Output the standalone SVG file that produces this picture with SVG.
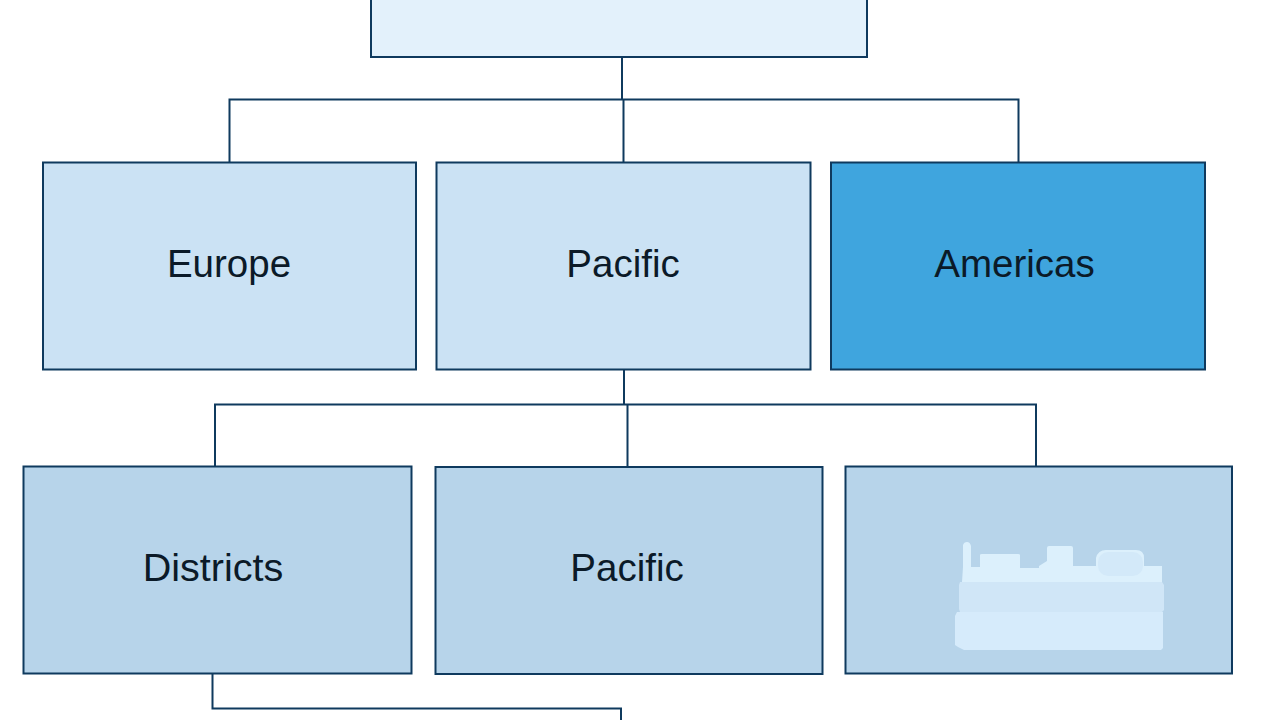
<svg xmlns="http://www.w3.org/2000/svg" width="1280" height="720" viewBox="0 0 1280 720">
<style>
.box{stroke:#0f3a5e;stroke-width:2}
.l1{fill:#cbe2f4}
.l2{fill:#b7d4ea}
.c{fill:none;stroke:#0f3a5e;stroke-width:2}
text{font-family:"Liberation Sans",Arial,sans-serif;font-size:38.500px;fill:#0b1a28;text-anchor:middle}
</style>
<rect width="1280" height="720" fill="#ffffff"/>
<g id="connectors">
<path class="c" d="M622 57V99M229.500 162V99.500H1018.500V162M623.500 99.500V162"/>
<path class="c" d="M624 369V404M215 466V404.500H1036V466M627.500 404.500V467"/>
<path class="c" d="M212.500 673V708.500H621V720"/>
</g>
<g id="root"><rect class="box" x="371" y="-10" width="496" height="67" fill="#e3f1fb"/></g>
<g id="europe"><rect class="box l1" x="43" y="162.500" width="373" height="207"/><text x="229" y="277">Europe</text></g>
<g id="pacific"><rect class="box l1" x="436.500" y="162.500" width="374" height="207"/><text x="623" y="277">Pacific</text></g>
<g id="americas"><rect class="box" x="831" y="162.500" width="374" height="207" fill="#3fa5de"/><text x="1014.500" y="277">Americas</text></g>
<g id="districts"><rect class="box l2" x="23.500" y="466.500" width="388" height="207"/><text x="213" y="581" style="font-size:39.600px">Districts</text></g>
<g id="pacific-2"><rect class="box l2" x="435.500" y="467" width="387" height="207"/><text x="627" y="581">Pacific</text></g>
<g id="ship-node"><rect class="box l2" x="845.500" y="466.500" width="386.500" height="207"/>
<path fill="#dcf0fc" d="M963 567V545q1-3 4-3q3 0 4 4V567h9V555q0-1 2-1h36q2 0 2 1V568h19L1039 566l8-5V548q0-2 2-2h22q2 0 2 2V566h23V558q2-8 10-8h30q8 0 8 8v8h18v16H962z"/>
<rect x="1098" y="552" width="45" height="24" rx="10" fill="#d3e9f9"/>
<path fill="#d0e6f7" d="M960 582h202l2 3v25l-2 2H960l-1-3V585z"/>
<path fill="#d6ebfb" d="M957 612H1163V648l-2 2H964l-6-3-3-2V616z"/>
</g>
</svg>
